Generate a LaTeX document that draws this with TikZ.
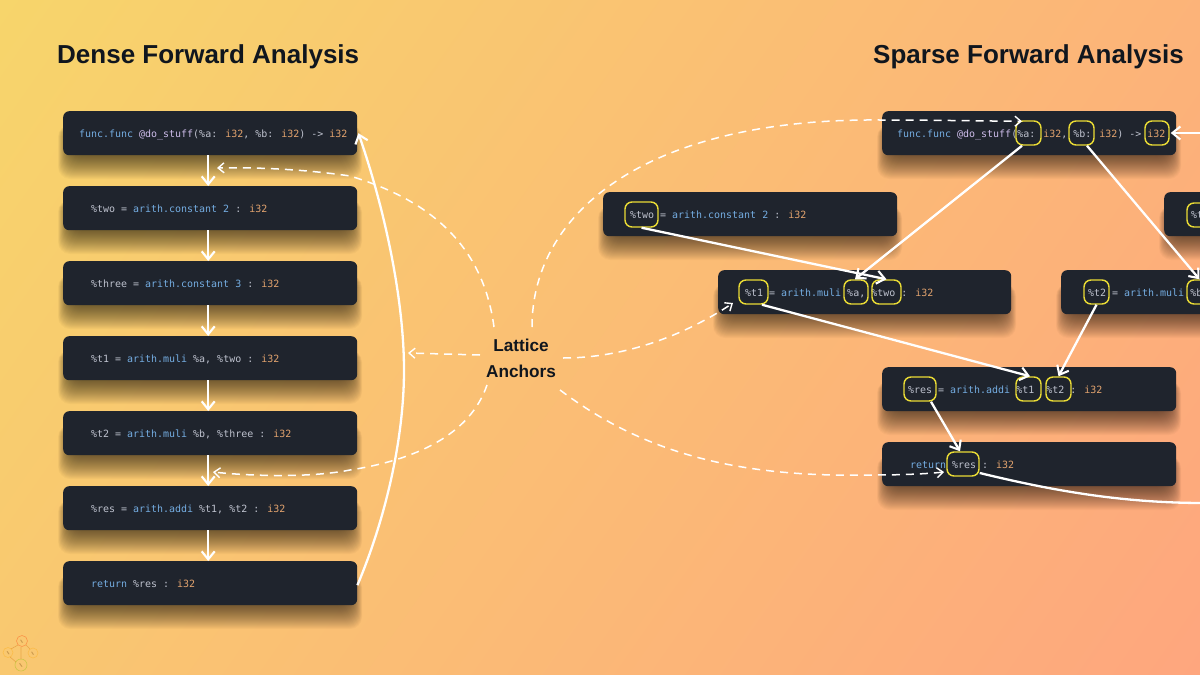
\documentclass[tikz,border=0pt]{standalone}
\usepackage{fontspec}
\setmainfont{Liberation Sans}
\newfontfamily\codefont{DejaVu Sans Mono}
\usetikzlibrary{arrows.meta}
\definecolor{bgA}{HTML}{F7D56B}
\definecolor{bgB}{HTML}{F9BE6F}
\definecolor{bgC}{HTML}{FEA67E}
\definecolor{boxc}{HTML}{1F242D}
\definecolor{vark}{HTML}{BEC2CE}
\definecolor{opk}{HTML}{74ADE2}
\definecolor{tyk}{HTML}{E2A36E}
\definecolor{fnk}{HTML}{CDBCEA}
\definecolor{hlc}{HTML}{EADC35}
\definecolor{titlec}{HTML}{10161E}
\newcommand{\vv}[1]{\textcolor{vark}{#1}}
\newcommand{\oo}[1]{\textcolor{opk}{#1}}
\newcommand{\ty}[1]{\textcolor{tyk}{#1}}
\newcommand{\ff}[1]{\textcolor{fnk}{#1}}
\tikzset{
  codebox/.style={fill=boxc,rounded corners=6pt,minimum height=44pt,minimum width=294pt,anchor=north west,inner sep=0pt,draw=none},
  codetext/.style={anchor=base west,inner sep=0pt,font=\codefont\fontsize{9.97}{12}\selectfont},
  hl/.style={draw=hlc,line width=1.45pt,rounded corners=7pt,minimum height=24pt,inner sep=0pt},
  flow/.style={draw=white,line width=2.3pt,-{Straight Barb[length=8pt,width=13pt,line width=2.1pt]}},
  plainflow/.style={draw=white,line width=2.3pt},
  dashflow/.style={draw=white,line width=1.5pt,dash pattern=on 8pt off 6pt,-{Straight Barb[length=6pt,width=10pt,line width=1.4pt]}},
  heading/.style={anchor=base west,inner sep=0pt,text=titlec,font=\bfseries\fontsize{26}{30}\selectfont},
  anchorlabel/.style={align=center,inner sep=0pt,text=titlec,font=\bfseries\fontsize{17.2}{26}\selectfont},
  logoc/.style={draw=#1,line width=.6pt,opacity=.35}
}
% name x y(top) width
\newcommand{\cb}[4]{%
  \foreach \k in {0,...,27}{%
    \pgfmathsetmacro{\g}{14-1.0*\k}%
    \pgfmathsetmacro{\h}{0.5*\g-2}%
    \fill[black,opacity=.028,rounded corners=12pt] (#2-\h,#3+14) rectangle (#2+#4+\h,#3+44+10+\g);
  }%
  \node[codebox,minimum width=#4pt] (#1) at (#2,#3) {};
}
\begin{document}
\begin{tikzpicture}[x=1pt,y=-1pt]
\useasboundingbox (0,0) rectangle (1200,675);
\clip (0,0) rectangle (1200,675);
\shade[transform canvas={shift={(600,337.5)},rotate=-35},left color=bgA,middle color=bgB,right color=bgC] (-685,-700) rectangle (685,700);

% logo
\draw[logoc=red!60!orange] (22,641) circle (5.5);
\draw[logoc=orange!70!yellow] (8,652.5) circle (5);
\draw[logoc=orange!70!yellow] (33,653) circle (5);
\draw[logoc=green!50!orange] (21,665) circle (6);
\draw[logoc=orange!80!black] (18,645) -- (11,649) (26,645) -- (30,649) (21,647) -- (21,659) (10,657) -- (16,662);
\fill[orange!40!black,opacity=.3] (21,639.5) -- (23,642.5) -- (22,642.8) -- (20.2,640) -- cycle
 (7.5,651) -- (9.5,654) -- (8.5,654.3) -- (6.7,651.5) -- cycle
 (32,651.5) -- (34,654.5) -- (33,654.8) -- (31.2,652) -- cycle
 (20,663) -- (22.5,666.5) -- (21.5,666.8) -- (19.2,663.5) -- cycle;

% titles
\node[heading] (titleL) at (57,63) {Dense Forward Analysis};
\node[heading] (titleR) at (873,63) {Sparse Forward Analysis};

% left column
\cb{a1}{63}{111}{294}
\node[codetext] (a1t) at (79,137) {\oo{func.func} \ff{@do\_stuff}\vv{(\%a:} \ty{i32}\vv{, \%b:} \ty{i32}\vv{) ->} \ty{i32}};
\cb{a2}{63}{186}{294}
\node[codetext] (a2t) at (91,212.5) {\vv{\%two =} \oo{arith.constant 2} \vv{:} \ty{i32}};
\cb{a3}{63}{261}{294}
\node[codetext] (a3t) at (91,287.5) {\vv{\%three =} \oo{arith.constant 3} \vv{:} \ty{i32}};
\cb{a4}{63}{336}{294}
\node[codetext] (a4t) at (91,362.5) {\vv{\%t1 =} \oo{arith.muli} \vv{\%a, \%two :} \ty{i32}};
\cb{a5}{63}{411}{294}
\node[codetext] (a5t) at (91,437.5) {\vv{\%t2 =} \oo{arith.muli} \vv{\%b, \%three :} \ty{i32}};
\cb{a6}{63}{486}{294}
\node[codetext] (a6t) at (91,512.5) {\vv{\%res =} \oo{arith.addi} \vv{\%t1, \%t2 :} \ty{i32}};
\cb{a7}{63}{561}{294}
\node[codetext] (a7t) at (91,587.5) {\oo{return} \vv{\%res :} \ty{i32}};

\foreach \p/\q in {a1/a2,a2/a3,a3/a4,a4/a5,a5/a6,a6/a7}{
  \draw[flow] ([xshift=-2pt]\p.south) -- ([xshift=-2pt]\q.north);
}
\draw[flow] ([yshift=-2pt]a7.east) .. controls (385,520) and (404,440) .. (404,370) .. controls (404,300) and (385,210) .. ([xshift=1pt]a1.east);

% right column
\cb{b1}{882}{111}{294}
\node[codetext] (b1t) at (897,137) {\oo{func.func} \ff{@do\_stuff}\vv{(\%a:} \ty{i32}\vv{, \%b:} \ty{i32}\vv{) ->} \ty{i32}};
\cb{b2}{603}{192}{294}
\node[codetext] (b2t) at (630,218.5) {\vv{\%two =} \oo{arith.constant 2} \vv{:} \ty{i32}};
\cb{b3}{1164}{192}{294}
\node[codetext] (b3t) at (1191,218.5) {\vv{\%three =} \oo{arith.constant 3} \vv{:} \ty{i32}};
\cb{b4}{718}{270}{293}
\node[codetext] (b4t) at (745,296.5) {\vv{\%t1 =} \oo{arith.muli} \vv{\%a, \%two :} \ty{i32}};
\cb{b5}{1061}{270}{294}
\node[codetext] (b5t) at (1088,296.5) {\vv{\%t2 =} \oo{arith.muli} \vv{\%b, \%three :} \ty{i32}};
\cb{b6}{882}{367}{294}
\node[codetext] (b6t) at (908,393.5) {\vv{\%res =} \oo{arith.addi} \vv{\%t1\ \ \%t2 :} \ty{i32}};
\cb{b7}{882}{442}{294}
\node[codetext] (b7t) at (910,468.5) {\oo{return} \vv{\%res :} \ty{i32}};

% highlights
\node[hl,minimum width=25pt] (fa) at (1028.5,133) {};
\node[hl,minimum width=25pt] (fb) at (1081.5,133) {};
\node[hl,minimum width=24pt] (fr) at (1157,133) {};
\node[hl,minimum width=33pt,minimum height=25pt] (tt) at (641.5,214.5) {};
\node[hl,minimum width=47pt] (th) at (1210.5,215) {};
\node[hl,minimum width=29pt] (t1) at (753.5,292) {};
\node[hl,minimum width=24pt] (ta) at (856,292) {};
\node[hl,minimum width=29pt] (ttwo) at (886.5,292) {};
\node[hl,minimum width=25pt] (t2) at (1096.5,292) {};
\node[hl,minimum width=25pt] (tb) at (1199.5,292) {};
\node[hl,minimum width=32pt] (r) at (920,389) {};
\node[hl,minimum width=25pt] (rta) at (1028.5,389) {};
\node[hl,minimum width=25pt] (rtb) at (1058.5,389) {};
\node[hl,minimum width=32pt] (rr) at (963,464) {};

% right flow arrows
\coordinate (outR) at (1204,503);
\coordinate (inR) at (1204,133);
\draw[flow] ([xshift=-6.5pt]fa.south) -- ([xshift=-1pt]ta.north);
\draw[flow] (tt.south) -- (ttwo.north);
\draw[flow] ([xshift=5.5pt]fb.south) -- (tb.north);
\draw[flow] ([xshift=8.5pt]t1.south) -- ([xshift=1.5pt]rta.north);
\draw[flow] (t2.south) -- (rtb.north);
\draw[flow] ([xshift=11pt]r.south) -- ([xshift=-3pt]rr.north);
\draw[flow] (inR) -- ([xshift=1pt]fr.east);
\draw[plainflow] ([yshift=-9pt]rr.east) .. controls (1050,490) and (1120,503) .. (outR);

% label and dashed arrows
\node[anchorlabel] (lat) at (521,358) {Lattice\\Anchors};
\coordinate (d1s) at (494,327);
\coordinate (d1e) at (217,168);
\coordinate (d2s) at (480,355);
\coordinate (d2e) at (408,353);
\coordinate (d3s) at (487,385);
\coordinate (d3e) at (213,472);
\coordinate (d4s) at (532,327);
\coordinate (d5s) at (563,358);
\coordinate (d5e) at (733,303);
\coordinate (d6s) at (560,390);
\coordinate (d6e) at (944,472);
\draw[dashflow] (d1s) .. controls (483,245) and (430,200) .. (350,176) .. controls (310,170) and (260,167) .. (d1e);
\draw[dashflow] (d2s) -- (d2e);
\draw[dashflow] (d3s) .. controls (470,435) and (415,460) .. (350,470) .. controls (310,478) and (250,476) .. (d3e);
\draw[dashflow] (d4s) .. controls (532,210) and (650,118) .. (880,120) .. controls (930,120) and (980,121) .. ([xshift=-6.5pt,yshift=-1pt]fa.north);
\draw[dashflow] (d5s) .. controls (625,358) and (685,335) .. (d5e);
\draw[dashflow] (d6s) .. controls (640,450) and (730,478) .. (873,475) .. controls (900,475) and (925,474) .. (d6e);
\end{tikzpicture}
\end{document}
